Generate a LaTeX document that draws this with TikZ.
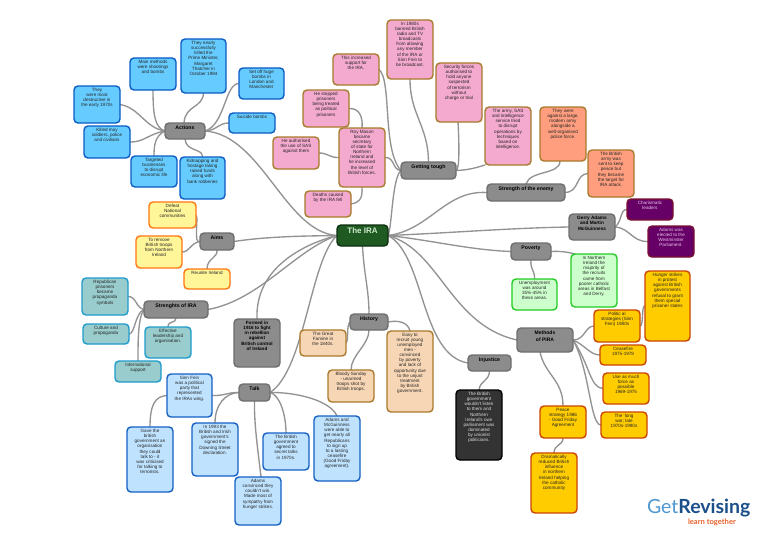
\documentclass[tikz,border=0pt]{standalone}
\usepackage{fontspec}
\setmainfont{Liberation Sans}
\newfontfamily\logofont{Lato}
\usetikzlibrary{backgrounds}
\definecolor{blF}{HTML}{66CCFF}\definecolor{blD}{HTML}{0B5BC4}
\definecolor{piF}{HTML}{F4A9CE}\definecolor{brD}{HTML}{A87A2A}
\definecolor{saF}{HTML}{FF9E7E}
\definecolor{puF}{HTML}{660066}\definecolor{puD}{HTML}{7A1030}\definecolor{puT}{HTML}{E8C8F0}
\definecolor{grF}{HTML}{CCFFCC}\definecolor{grD}{HTML}{22CC22}
\definecolor{amF}{HTML}{FFCC00}\definecolor{amD}{HTML}{CC4400}
\definecolor{yeF}{HTML}{FFF599}\definecolor{yeD}{HTML}{FF7711}
\definecolor{teF}{HTML}{99CCCC}\definecolor{teD}{HTML}{1F9BCC}
\definecolor{paF}{HTML}{BFE3FF}\definecolor{paD}{HTML}{1560C4}
\definecolor{peF}{HTML}{F7D6B5}
\definecolor{gyF}{HTML}{8C8C8C}\definecolor{gyD}{HTML}{6E6E6E}
\definecolor{roF}{HTML}{1F5A22}\definecolor{roD}{HTML}{0D2F10}\definecolor{roT}{HTML}{CFEBCF}
\definecolor{bkF}{HTML}{333333}\definecolor{bkT}{HTML}{DDDDDD}
\definecolor{lnk}{HTML}{939393}
\definecolor{lgA}{HTML}{4E97D1}\definecolor{lgB}{HTML}{1B4F8A}\definecolor{lgC}{HTML}{E8622A}
\tikzset{
  box/.style={rectangle,rounded corners=4pt,inner sep=0pt,outer sep=0pt,line width=1.4pt,text=black!85,
    font=\fontsize{4.6}{5.05}\selectfont},
  actbox/.style={box,fill=blF,draw=blD},
  pinkbox/.style={box,fill=piF,draw=brD},
  salbox/.style={box,fill=saF,draw=brD},
  purbox/.style={box,fill=puF,draw=puD,text=puT},
  grnbox/.style={box,fill=grF,draw=grD},
  ambbox/.style={box,fill=amF,draw=amD},
  yelbox/.style={box,fill=yeF,draw=yeD},
  tealbox/.style={box,fill=teF,draw=teD},
  palebox/.style={box,fill=paF,draw=paD},
  peachbox/.style={box,fill=peF,draw=brD},
  blackbox/.style={box,fill=bkF,draw=black,text=bkT},
  head/.style={box,fill=gyF,draw=gyD,text=black,font=\fontsize{5.2}{6.2}\selectfont\bfseries},
  rootbox/.style={box,fill=roF,draw=roD,text=roT,font=\fontsize{8}{9}\selectfont\bfseries},
  link/.style={draw=lnk,line width=1.35pt,line cap=round},
  logotxt/.style={inner sep=0pt,outer sep=0pt,anchor=base west}
}
\newcommand{\bx}[7]{%
  \pgfmathsetlengthmacro{\bw}{(#5)-(#3)}%
  \pgfmathsetlengthmacro{\bh}{(#6)-(#4)}%
  \node[#1] (#2) at ({(#3+#5)/2},{(#4+#6)/2}) {\parbox[c][\bh][t]{\bw}{\vspace{2.5pt}\centering #7\par}};}
\begin{document}
\begin{tikzpicture}[x=1pt,y=-1pt]
\useasboundingbox (0,0) rectangle (768,543);
% root and headings
\bx{rootbox}{root}{337}{225}{388}{246}{The IRA}
\bx{head}{actions}{165}{123}{205}{139}{Actions}
\bx{head}{tough}{401}{162}{456}{179}{Getting tough}
\bx{head}{enemy}{487}{184}{565}{201}{Strength of the enemy}
\bx{head,font=\fontsize{4.7}{5.05}\selectfont\bfseries}{gerry}{569}{214}{615}{240}{Gerry Adams\\and Martin\\McGuinness}
\bx{head}{poverty}{511}{243}{551}{260}{Poverty}
\bx{head,font=\fontsize{5}{7}\selectfont\bfseries}{methods}{517}{328}{573}{352}{Methods\\of PIRA}
\bx{head}{injustice}{468}{355}{511}{371}{Injustice}
\bx{head}{history}{350}{314}{388}{330}{History}
\bx{head}{talk}{239}{384}{270}{401}{Talk}
\bx{head,font=\fontsize{4.6}{5.05}\selectfont\bfseries}{formed}{234}{319}{280}{367}{Formed in\\1916 to fight\\in rebellion\\against\\British control\\of Ireland}
\bx{head}{strengths}{144}{301}{208}{318}{Strenghts of IRA}
\bx{head}{aims}{200}{233}{234}{250}{Aims}
% actions
\bx{actbox}{a1}{130}{58}{176}{90}{Main methods\\were shootings\\and bombs}
\bx{actbox}{a2}{181}{39}{226}{93}{They nearly\\successfully\\killed the\\Prime Minister,\\Margaret\\Thatcher in\\October 1984}
\bx{actbox}{a3}{239}{68}{284}{99}{Set off huge\\bombs in\\London and\\Manchester}
\bx{actbox}{a4}{74}{86}{120}{123}{They\\were most\\destructive in\\the early 1970s}
\bx{actbox}{a5}{84}{126}{130}{158}{Killed may\\soldiers, police\\and civilians}
\bx{actbox}{a6}{229}{113}{275}{133}{Suicide bombs}
\bx{actbox}{a7}{131}{156}{177}{187}{Targeted\\businesses\\to disrupt\\economic life}
\bx{actbox}{a8}{180}{157}{225}{199}{Kidnapping and\\hostage taking\\raised funds\\along with\\bank robberies}
% getting tough
\bx{pinkbox}{t1}{387}{20}{433}{79}{In 1980s\\banned British\\radio and TV\\broadcasts\\from allowing\\any member\\of the IRA or\\Sinn Fein to\\be broadcast.}
\bx{pinkbox}{t2}{333}{54}{379}{85}{This increased\\support for\\the IRA.}
\bx{pinkbox}{t3}{303}{90}{349}{127}{He stopped\\prisoners\\being treated\\as political\\prisoners}
\bx{pinkbox}{t4}{436}{63}{482}{122}{Security forces\\authorised to\\hold anyone\\suspected\\of terrorism\\without\\charge or trial}
\bx{pinkbox}{t5}{339}{128}{385}{187}{Roy Mason\\became\\secretary\\of state for\\Northern\\Ireland and\\he increased\\the level of\\British forces.}
\bx{pinkbox}{t6}{273}{137}{319}{169}{He authorised\\the use of SAS\\against them}
\bx{pinkbox}{t7}{305}{191}{351}{217}{Deaths caused\\by the IRA fell}
\bx{pinkbox}{t8}{485}{107}{531}{165}{The army, SAS\\and intelligence\\service tried\\to disrupt\\operations by\\techniques\\based on\\intelligence.}
% enemy
\bx{salbox}{e1}{540}{107}{586}{161}{They were\\against a large,\\modern army\\alongside a\\well-organised\\police force.}
\bx{salbox}{e2}{588}{150}{634}{197}{The British\\army was\\sent to keep\\peace but\\they became\\the target for\\IRA attack.}
% gerry
\bx{purbox}{g1}{627}{199}{673}{220}{Charismatic\\leaders}
\bx{purbox}{g2}{648}{226}{694}{257}{Adams was\\elected to the\\Westminster\\Parliament.}
% poverty
\bx{grnbox}{p1}{512}{279}{557}{310}{Unemployment\\was around\\35\%-45\% in\\these areas.}
\bx{grnbox}{p2}{571}{254}{617}{307}{In Northern\\Ireland the\\majority of\\the recruits\\came from\\poorer catholic\\areas in Belfast\\and Derry.}
% methods
\bx{ambbox}{m1}{645}{271}{690}{341}{Hunger strikes\\in protest\\against British\\governments\\refusal to grant\\them special\\prisoner states}
\bx{ambbox}{m2}{594}{310}{640}{342}{Politic al\\strategies (Sinn\\Fein) 1980s}
\bx{ambbox}{m3}{600}{345}{646}{365}{Ceasefire\\1975-1978}
\bx{ambbox}{m4}{603}{373}{649}{404}{Use as much\\force as\\possible\\1969-1975}
\bx{ambbox}{m5}{601}{412}{647}{438}{The 'long\\war; late\\1970s-1990s}
\bx{ambbox}{m6}{540}{406}{586}{438}{Peace\\strategy 1986\\- Good Friday\\Agreement}
\bx{ambbox}{m7}{531}{453}{577}{513}{Dramatically\\reduced British\\influence\\in northern\\Ireland helping\\the catholic\\community}
% aims
\bx{yelbox}{y1}{149}{202}{196}{228}{Defeat\\National\\communities}
\bx{yelbox}{y2}{136}{236}{182}{268}{To remove\\British troops\\from Northern\\Ireland}
\bx{yelbox}{y3}{184}{269}{230}{289}{Reunite Ireland}
% strengths
\bx{tealbox}{s1}{82}{278}{128}{315}{Republican\\prisoners\\became\\propaganda\\symbols}
\bx{tealbox}{s2}{83}{324}{129}{344}{Culture and\\propoganda}
\bx{tealbox}{s3}{145}{327}{191}{358}{Effective\\leadership and\\organisation.}
\bx{tealbox}{s4}{115}{361}{161}{382}{International\\support}
% talk
\bx{palebox}{k1}{167}{374}{212}{417}{Sinn Fein\\was a political\\party that\\represented\\the IRAs wing.}
\bx{palebox}{k2}{127}{427}{173}{492}{Gave the\\british\\government an\\organisation\\they could\\talk to - it\\was criticised\\for talking to\\terrorists.}
\bx{palebox}{k3}{192}{423}{238}{476}{In 1993 the\\British and Irish\\government's\\signed the\\Downing Street\\declaration.}
\bx{palebox}{k4}{235}{477}{281}{525}{Adams\\convinced they\\couldn't win.\\Made most of\\sympathy from\\hunger strikes.}
\bx{palebox}{k5}{263}{433}{309}{470}{The British\\government\\agreed to\\secret talks\\in 1970s.}
\bx{palebox}{k6}{314}{416}{360}{481}{Adams and\\McGuinness\\were able to\\get nearly all\\Republicans\\to sign up\\to a lasting\\ceasefire\\(Good Friday\\agreement).}
% history
\bx{peachbox}{h1}{300}{330}{346}{356}{The Great\\Famine in\\the 1840s.}
\bx{peachbox}{h2}{328}{370}{374}{402}{Bloody Sunday\\- unarmed\\troops shot by\\British troops.}
\bx{peachbox}{h3}{387}{331}{433}{412}{Easy to\\recruit young\\unemployed\\men -\\convinced\\by poverty\\and lack of\\opportunity due\\to the unjust\\treatment\\by British\\government.}
% injustice
\bx{blackbox}{b1}{456}{390}{502}{460}{The British\\government\\wouldn't listen\\to them and\\Northern\\Ireland's own\\parliament was\\dominated\\by unionist\\politicians.}
% logo
\node[logotxt,font=\logofont\fontsize{19.5}{20}\selectfont,text=lgA] (logoa) at (647,513) {Get};
\node[logotxt,font=\logofont\fontsize{19.5}{20}\selectfont\bfseries,text=lgB] (logob) at (logoa.base east) {Revising};
\node[logotxt,font=\logofont\fontsize{7.6}{8}\selectfont\bfseries,text=lgC] (logoc) at (688,524) {learn together};
\begin{scope}[on background layer]
\fill[white] (0,0) rectangle (768,543);
% root branches
\draw[link] (root.west) .. controls (285,232) and (262,135) .. (actions.east);
\draw[link] (root.west) .. controls (310,236) and (270,236) .. (aims.east);
\draw[link] (root.west) .. controls (295,250) and (260,300) .. (strengths.east);
\draw[link] (root.west) .. controls (300,245) and (255,270) .. (formed.north);
\draw[link] (root.west) .. controls (310,260) and (305,370) .. (talk.east);
\draw[link] (root.south) .. controls (364,275) and (369,290) .. (history.north);
\draw[link] (root.east) .. controls (392,228) and (392,178) .. (tough.west);
\draw[link] (root.east) .. controls (430,230) and (445,190) .. (enemy.west);
\draw[link] (root.east) .. controls (450,233) and (510,228) .. (gerry.west);
\draw[link] (root.east) .. controls (430,240) and (470,250) .. (poverty.west);
\draw[link] (root.east) .. controls (440,250) and (450,325) .. (methods.west);
\draw[link] (root.east) .. controls (425,255) and (420,355) .. (injustice.west);
% actions
\draw[link] (a4.east) .. controls (140,108) and (145,128) .. (actions.west);
\draw[link] (a1.south) .. controls (153,115) and (155,128) .. (actions.west);
\draw[link] (a2.south) .. controls (203,108) and (185,105) .. ([xshift=-1pt]actions.north);
\draw[link] (a3.west) .. controls (225,83) and (225,125) .. (actions.east);
\draw[link] (a6.west) .. controls (218,123) and (218,130) .. (actions.east);
\draw[link] (a5.east) .. controls (145,142) and (148,134) .. (actions.west);
\draw[link] (a7.north) .. controls (154,145) and (155,136) .. (actions.west);
\draw[link] (a8.north) .. controls (203,148) and (186,152) .. (actions.south);
% tough
\draw[link] (t1.south) .. controls (410,115) and (428,125) .. (tough.north);
\draw[link] ([xshift=-1pt]t4.south) .. controls (459,140) and (460,170) .. (tough.east);
\draw[link] (tough.east) .. controls (470,170) and (478,167) .. (t8.south west);
\draw[link] (t2.east) .. controls (392,80) and (382,150) .. (tough.west);
\draw[link] (t5.east) .. controls (395,157) and (392,170) .. (tough.west);
\draw[link] (t3.east) .. controls (360,108) and (363,118) .. (t5.north);
\draw[link] (t6.east) .. controls (328,153) and (330,158) .. (t5.west);
\draw[link] (t7.east) .. controls (358,203) and (363,200) .. (t5.south);
% enemy
\draw[link] ([xshift=-3pt]e1.south) .. controls (560,175) and (530,170) .. ([xshift=0pt]enemy.north);
\draw[link] (e2.west) .. controls (575,174) and (580,192) .. (enemy.east);
% gerry
\draw[link] (g1.west) .. controls (620,209) and (622,222) .. (gerry.east);
\draw[link] (g2.west) .. controls (632,242) and (630,228) .. (gerry.east);
% poverty
\draw[link] (poverty.south) .. controls (530,270) and (535,270) .. ([xshift=0pt]p1.north);
\draw[link] (poverty.east) .. controls (560,251) and (568,252) .. ([xshift=-19pt]p2.north);
% methods
\draw[link] (m2.west) .. controls (585,326) and (585,340) .. (methods.east);
\draw[link] (m3.west) .. controls (590,355) and (585,345) .. (methods.east);
\draw[link] (m4.west) .. controls (590,388) and (590,365) .. (methods.east);
\draw[link] (m5.west) .. controls (590,425) and (590,370) .. (methods.east);
\draw[link] ([xshift=-5pt]methods.south) .. controls (545,375) and (563,380) .. (m6.north);
\draw[link] (m2.east) .. controls (644,325) and (641,306) .. (m1.west);
\draw[link] (m6.south) .. controls (563,446) and (554,444) .. (m7.north);
% history
\draw[link] (h1.east) .. controls (349,340) and (346,326) .. (history.west);
\draw[link] (h2.north) .. controls (351,355) and (369,345) .. (history.south);
\draw[link] (history.east) .. controls (398,320) and (408,322) .. (h3.north);
% injustice
\draw[link] (injustice.south) .. controls (489,382) and (480,380) .. ([xshift=0pt]b1.north);
% aims
\draw[link] (y1.east) .. controls (199,216) and (193,245) .. (aims.west);
\draw[link] (y2.east) .. controls (190,252) and (190,243) .. (aims.west);
\draw[link] (aims.south) .. controls (218,258) and (207,258) .. ([xshift=0pt]y3.north);
% strengths
\draw[link] (s1.east) .. controls (136,296) and (136,308) .. (strengths.west);
\draw[link] (s2.east) .. controls (135,334) and (135,313) .. (strengths.west);
\draw[link] (strengths.south) .. controls (176,324) and (168,320) .. (s3.north);
\draw[link] (s4.north) .. controls (138,340) and (138,318) .. (strengths.west);
% talk
\draw[link] (k1.east) .. controls (225,396) and (228,392) .. (talk.west);
\draw[link] (k1.west) .. controls (155,396) and (150,405) .. (k2.north);
\draw[link] ([xshift=0pt]k3.north) .. controls (215,405) and (225,393) .. (talk.west);
\draw[link] ([xshift=3pt]k4.north) .. controls (258,450) and (254,425) .. ([xshift=0pt]talk.south);
\draw[link] (k5.north) .. controls (286,415) and (280,395) .. (talk.east);
\draw[link] (k6.north) .. controls (330,400) and (295,392) .. (talk.east);
\end{scope}
\end{tikzpicture}
\end{document}
